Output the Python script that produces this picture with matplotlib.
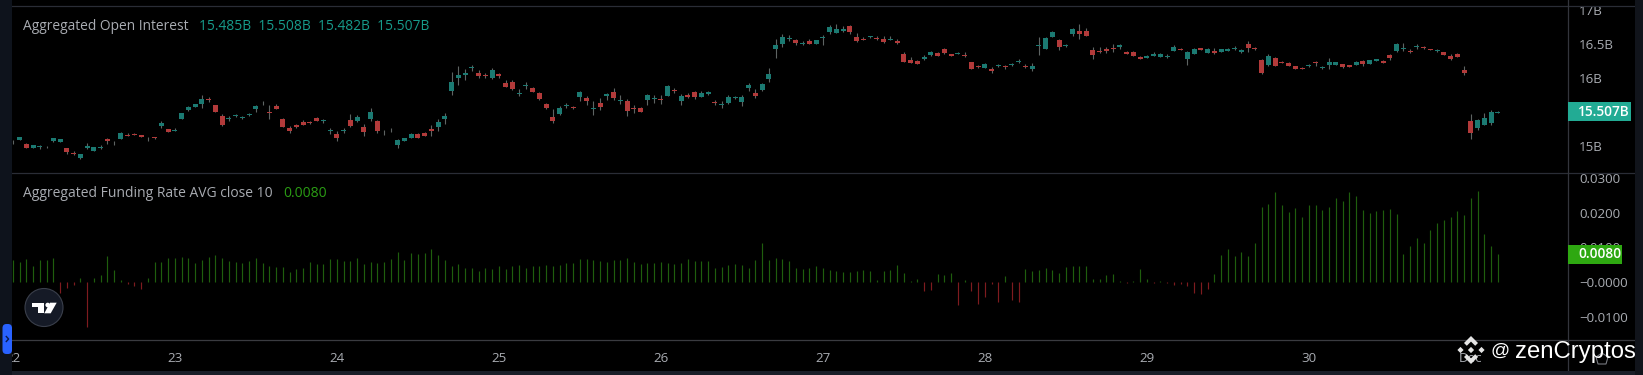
import matplotlib
matplotlib.use("Agg")
import matplotlib.pyplot as plt
import numpy as np
from matplotlib.patches import Circle, FancyBboxPatch, Rectangle, Polygon
from matplotlib.transforms import Bbox

# hourly candles, values in billions
opens = [15.054,15.093,15.025,14.975,14.985,14.980,15.074,15.064,14.971,14.897,14.828,14.975,14.931,14.975,15.098,15.049,
15.108,15.162,15.176,15.162,15.108,15.123,15.294,15.250,15.225,15.402,15.529,15.574,15.618,15.681,15.603,15.441,
15.402,15.441,15.417,15.456,15.544,15.627,15.500,15.588,15.397,15.265,15.309,15.353,15.353,15.412,15.368,15.216,
15.172,15.225,15.377,15.368,15.279,15.397,15.368,15.186,15.240,15.015,15.074,15.118,15.176,15.191,15.250,15.279,
15.397,15.809,16.000,16.044,16.147,16.074,16.044,16.000,16.059,15.926,15.941,15.760,15.882,15.853,15.779,15.618,
15.426,15.471,15.593,15.574,15.721,15.706,15.549,15.632,15.735,15.794,15.667,15.662,15.559,15.559,15.676,15.696,
15.691,15.735,15.824,15.662,15.750,15.794,15.721,15.765,15.647,15.608,15.632,15.711,15.647,15.853,15.779,15.824,
15.985,16.426,16.500,16.574,16.559,16.505,16.544,16.500,16.593,16.676,16.662,16.691,16.765,16.603,16.574,16.603,
16.588,16.574,16.564,16.544,16.353,16.265,16.250,16.279,16.338,16.368,16.426,16.353,16.358,16.338,16.235,16.176,
16.147,16.132,16.181,16.176,16.191,16.240,16.176,16.132,16.475,16.426,16.603,16.559,16.475,16.647,16.691,16.691,
16.412,16.397,16.426,16.446,16.456,16.382,16.382,16.304,16.294,16.324,16.309,16.314,16.397,16.426,16.279,16.353,
16.441,16.368,16.397,16.382,16.402,16.431,16.382,16.500,16.446,16.265,16.191,16.294,16.240,16.221,16.176,16.147,
16.176,16.230,16.152,16.191,16.191,16.206,16.191,16.191,16.250,16.206,16.250,16.250,16.338,16.397,16.426,16.397,
16.456,16.456,16.426,16.402,16.387,16.324,16.353,16.118,15.368,15.265,15.309,15.338,15.485]
closes = [15.064,15.132,14.975,15.010,14.995,14.990,15.113,15.103,14.917,14.887,14.882,15.000,14.980,14.985,15.074,15.039,
15.186,15.152,15.167,15.137,15.098,15.113,15.338,15.211,15.235,15.485,15.574,15.613,15.691,15.672,15.505,15.309,
15.412,15.451,15.426,15.466,15.588,15.637,15.490,15.549,15.284,15.221,15.279,15.314,15.343,15.373,15.377,15.225,
15.123,15.235,15.294,15.426,15.206,15.500,15.221,15.196,15.230,15.088,15.118,15.176,15.118,15.142,15.221,15.353,
15.441,15.941,16.044,16.074,16.162,16.029,16.034,16.118,16.029,15.868,15.838,15.770,15.897,15.794,15.691,15.559,
15.368,15.559,15.603,15.559,15.794,15.662,15.559,15.574,15.765,15.706,15.676,15.515,15.549,15.500,15.750,15.706,
15.681,15.882,15.814,15.735,15.721,15.721,15.779,15.794,15.637,15.618,15.721,15.721,15.721,15.897,15.735,15.912,
16.059,16.485,16.603,16.583,16.515,16.515,16.500,16.559,16.603,16.750,16.721,16.721,16.676,16.544,16.564,16.618,
16.574,16.529,16.574,16.515,16.235,16.221,16.206,16.309,16.382,16.324,16.368,16.324,16.368,16.324,16.132,16.162,
16.206,16.103,16.191,16.162,16.206,16.250,16.162,16.176,16.485,16.588,16.676,16.456,16.485,16.721,16.647,16.618,
16.338,16.382,16.402,16.431,16.485,16.353,16.324,16.284,16.324,16.358,16.353,16.324,16.456,16.412,16.382,16.426,
16.412,16.426,16.368,16.426,16.426,16.446,16.412,16.441,16.426,16.074,16.324,16.176,16.225,16.176,16.132,16.132,
16.191,16.216,16.162,16.235,16.235,16.162,16.162,16.235,16.206,16.265,16.279,16.221,16.294,16.500,16.441,16.382,
16.471,16.441,16.412,16.412,16.338,16.279,16.309,16.074,15.191,15.382,15.412,15.500,15.507]
highs = [15.088,15.132,15.039,15.010,15.020,15.005,15.113,15.103,14.971,14.922,14.882,15.039,14.980,15.010,15.118,15.074,
15.201,15.191,15.191,15.162,15.132,15.132,15.368,15.250,15.265,15.485,15.588,15.613,15.750,15.716,15.603,15.471,
15.441,15.471,15.441,15.490,15.603,15.662,15.603,15.613,15.407,15.289,15.319,15.382,15.368,15.426,15.402,15.260,
15.221,15.265,15.471,15.451,15.324,15.559,15.377,15.235,15.260,15.098,15.118,15.191,15.186,15.201,15.304,15.392,
15.485,16.088,16.176,16.132,16.191,16.118,16.074,16.147,16.074,15.971,15.971,15.838,15.941,15.868,15.794,15.632,
15.544,15.588,15.632,15.588,15.809,15.735,15.662,15.706,15.779,15.853,15.750,15.691,15.603,15.574,15.765,15.750,
15.750,15.892,15.853,15.765,15.779,15.809,15.809,15.814,15.676,15.662,15.750,15.740,15.750,15.926,15.838,15.926,
16.147,16.574,16.647,16.632,16.574,16.544,16.574,16.559,16.632,16.779,16.794,16.765,16.779,16.662,16.603,16.618,
16.618,16.618,16.618,16.574,16.382,16.309,16.265,16.338,16.397,16.387,16.441,16.353,16.382,16.382,16.235,16.191,
16.221,16.162,16.206,16.191,16.221,16.279,16.206,16.221,16.603,16.603,16.691,16.574,16.500,16.735,16.794,16.735,
16.456,16.456,16.456,16.500,16.500,16.397,16.397,16.324,16.338,16.382,16.368,16.353,16.485,16.441,16.397,16.441,
16.441,16.441,16.441,16.426,16.441,16.471,16.426,16.544,16.461,16.279,16.353,16.304,16.250,16.235,16.176,16.162,
16.211,16.255,16.181,16.294,16.235,16.206,16.191,16.250,16.265,16.265,16.279,16.265,16.353,16.515,16.515,16.426,
16.500,16.471,16.426,16.426,16.387,16.353,16.363,16.176,15.471,15.397,15.485,15.529,15.508]
lows = [15.034,15.088,14.975,14.975,14.961,14.975,15.059,15.064,14.887,14.868,14.814,14.956,14.931,14.956,15.034,15.015,
15.108,15.152,15.157,15.137,15.074,15.103,15.265,15.211,15.221,15.402,15.520,15.574,15.564,15.642,15.505,15.294,
15.373,15.426,15.397,15.436,15.505,15.603,15.397,15.549,15.284,15.191,15.270,15.304,15.324,15.373,15.343,15.181,
15.078,15.191,15.279,15.353,15.147,15.373,15.191,15.162,15.206,14.971,15.074,15.118,15.118,15.142,15.152,15.225,
15.324,15.750,15.897,15.971,16.103,16.000,16.005,15.985,16.000,15.868,15.824,15.735,15.838,15.794,15.676,15.544,
15.338,15.456,15.559,15.544,15.662,15.603,15.456,15.529,15.676,15.676,15.618,15.441,15.485,15.500,15.603,15.632,
15.618,15.735,15.779,15.603,15.706,15.691,15.721,15.750,15.603,15.559,15.618,15.691,15.588,15.809,15.706,15.809,
15.941,16.294,16.456,16.544,16.485,16.485,16.500,16.500,16.485,16.647,16.662,16.676,16.647,16.529,16.559,16.588,
16.559,16.515,16.554,16.500,16.235,16.221,16.206,16.265,16.324,16.324,16.353,16.324,16.353,16.309,16.132,16.147,
16.147,16.074,16.162,16.132,16.176,16.221,16.147,16.103,16.338,16.426,16.603,16.412,16.456,16.618,16.574,16.618,
16.279,16.368,16.368,16.382,16.426,16.353,16.324,16.284,16.294,16.324,16.309,16.294,16.397,16.412,16.191,16.353,
16.412,16.368,16.348,16.382,16.402,16.412,16.368,16.382,16.412,16.059,16.176,16.176,16.216,16.176,16.132,16.132,
16.157,16.176,16.132,16.132,16.191,16.147,16.162,16.191,16.176,16.206,16.250,16.221,16.265,16.382,16.397,16.368,
16.426,16.426,16.412,16.382,16.338,16.265,16.309,16.044,15.103,15.235,15.309,15.309,15.482]

funding = [.0064,.0058,.0067,.0047,.0064,.0064,.0070,-.0031,-.0016,-.0008,.0012,-.0128,.0012,.0021,.0076,.0035,
.0007,-.0005,-.0011,-.0019,.0012,.0058,.0058,.0070,.0070,.0073,.0070,.0056,.0064,.0073,.0078,.0070,
.0061,.0058,.0056,.0061,.0070,.0056,.0047,.0044,.0044,.0030,.0038,.0041,.0058,.0053,.0053,.0067,
.0067,.0061,.0061,.0070,.0053,.0058,.0056,.0058,.0067,.0087,.0064,.0084,.0081,.0084,.0096,.0078,
.0064,.0047,.0053,.0041,.0041,.0033,.0041,.0038,.0047,.0038,.0047,.0050,.0041,.0047,.0047,.0050,
.0047,.0050,.0056,.0056,.0067,.0067,.0064,.0061,.0058,.0064,.0064,.0070,.0058,.0053,.0056,.0056,
.0058,.0056,.0053,.0056,.0067,.0061,.0061,.0061,.0041,.0044,.0050,.0053,.0050,.0041,.0064,.0113,
.0064,.0070,.0067,.0061,.0041,.0038,.0041,.0047,.0041,.0035,.0033,.0030,.0030,.0033,.0035,.0033,
.0007,.0033,.0035,.0050,.0027,.0004,.0010,-.0025,-.0022,.0024,.0021,.0027,-.0065,.0007,-.0025,-.0062,
-.0042,-.0005,-.0056,.0018,-.0051,-.0056,.0038,.0033,.0035,.0041,.0035,.0027,.0044,.0047,.0047,.0047,
.0010,.0010,.0021,.0024,.0004,-.0002,.0004,.0038,.0010,-.0002,.0004,-.0002,-.0008,-.0005,-.0011,-.0031,
-.0033,-.0019,.0024,.0078,.0096,.0076,.0087,.0076,.0113,.0216,.0225,.0259,.0222,.0202,.0213,.0188,
.0222,.0222,.0208,.0216,.0242,.0233,.0259,.0248,.0208,.0199,.0205,.0208,.0211,.0196,.0081,.0104,
.0127,.0113,.0150,.0170,.0179,.0188,.0205,.0193,.0242,.0262,.0139,.0104,.0080]

price_ticks = [15, 15.5, 16, 16.5, 17]
price_labels = ["15B", "", "16B", "16.5B", "17B"]
rate_ticks = [-0.01, 0, 0.01, 0.02, 0.03]
rate_labels = ["\u22120.0100", "\u22120.0000", "0.0100", "0.0200", "0.0300"]
day_ticks = [0, 24, 48, 72, 96, 120, 144, 168, 192, 216]
day_labels = ["22", "23", "24", "25", "26", "27", "28", "29", "30", "Dec"]
oi_title = "Aggregated Open Interest"
oi_values = "15.485B  15.508B  15.482B  15.507B"
fr_title = "Aggregated Funding Rate AVG close 10"
fr_value = "0.0080"

W, H = 1643, 375
BG = "#000000"
UP = "#1b7a72"
DOWN = "#b23a3a"
WICK = "#5e6463"
TXT = "#a9acb2"
LINE = "#2a2d36"
FONT = "Open Sans"

plt.rcParams["font.family"] = FONT
fig = plt.figure(figsize=(W / 100, H / 100), dpi=100, facecolor=BG)


def pane(x0, y0, x1, y1):
    return fig.add_axes([x0 / W, 1 - y1 / H, (x1 - x0) / W, (y1 - y0) / H], facecolor=BG)


def bg(x, y, w, h, color, z=0):
    fig.add_artist(Rectangle((x / W, 1 - (y + h) / H), w / W, h / H, transform=fig.transFigure,
                             facecolor=color, edgecolor="none", zorder=z))


def ftext(x, y, s, **kw):
    return fig.text(x / W, 1 - y / H, s, va="center", **kw)


opens, closes, highs, lows = map(np.array, (opens, closes, highs, lows))
funding = np.array(funding)
hours = np.arange(len(opens))
xlim = (-0.148, 230.4)

ax1 = pane(12, 6.3, 1568, 173)
ax2 = pane(12, 173.5, 1568, 340)

up = closes >= opens
ax1.vlines(hours, lows, highs, color=WICK, lw=0.8, zorder=2)
heights = np.maximum(np.abs(closes - opens), 0.012)
ax1.bar(hours[up], heights[up], bottom=np.minimum(opens, closes)[up], width=0.74, color=UP, lw=0, zorder=3)
ax1.bar(hours[~up], heights[~up], bottom=np.minimum(opens, closes)[~up], width=0.74, color=DOWN, lw=0, zorder=3)
ax1.set_xlim(xlim)
ax1.set_ylim(14.603, 17.054)

pos = funding >= 0
ax2.vlines(hours[pos], 0, funding[pos], color="#1f5e0d", lw=0.85)
ax2.vlines(hours[~pos], 0, funding[~pos], color="#7e1b1f", lw=0.85)
ax2.set_xlim(xlim)
ax2.set_ylim(-0.01658, 0.03126)

for ax, ticks, labels in ((ax1, price_ticks, price_labels), (ax2, rate_ticks, rate_labels)):
    ax.yaxis.tick_right()
    ax.set_yticks(ticks)
    ax.set_yticklabels(labels, color=TXT, fontsize=9.6)
    ax.tick_params(axis="y", length=0, pad=8)
    ax.tick_params(axis="x", length=0)
    ax.set_xticks([])
    for s in ax.spines.values():
        s.set_visible(False)
# top labels get cut by the pane edge
for ax, top in ((ax1, 6.3), (ax2, 173.5)):
    for tl in ax.get_yticklabels():
        tl.set_clip_on(True)
        tl.set_clip_box(Bbox([[1568, 0], [1643, H - top]]))

ax2.set_xticks(day_ticks)
ax2.set_xticklabels(day_labels, color=TXT, fontsize=9.6)
ax2.tick_params(axis="x", length=0, pad=9)
ax2.get_xticklabels()[0].set_clip_on(True)
ax2.get_xticklabels()[0].set_clip_box(Bbox([[12, 0], [1568, H]]))

# frame lines
for y in (6.3, 173.3, 340):
    fig.add_artist(plt.Line2D([12 / W, 1635 / W], [1 - y / H] * 2, color=LINE if y < 300 else "#3a3b40", lw=0.9))
fig.add_artist(plt.Line2D([1568 / W] * 2, [1, 1 - 371 / H], color="#33353c", lw=0.9))

# side and bottom strips
bg(0, 0, 12, H, "#0e131c", 5)
bg(1635, 0, 8, H, "#11141b", 5)
bg(12, 371, 1623, 4, "#1a1e28", 5)

# pane legends
ftext(23, 27, oi_title, color=TXT, fontsize=9.9)
ftext(199, 27, oi_values, color="#179b8b", fontsize=9.9)
ftext(23, 193.5, fr_title, color=TXT, fontsize=10)
ftext(283, 193.5, fr_value, color="#2b9d14", fontsize=10)

# last value tags
bg(1568, 102, 63, 19, "#22ab94", 8)
ftext(1578, 111.5, "15.507B", color="white", fontsize=9.8, fontweight="semibold", zorder=9)
bg(1568, 245, 54, 19, "#2ea811", 8)
ftext(1578, 254.5, "0.0080", color="white", fontsize=9.8, fontweight="semibold", zorder=9)

# overlay in pixel coords: side tab, tradingview badge, watermark
ov = fig.add_axes([0, 0, 1, 1], facecolor="none")
ov.set_xlim(0, W)
ov.set_ylim(H, 0)
ov.axis("off")
ov.set_zorder(10)
ov.add_patch(FancyBboxPatch((2.5, 324), 9.5, 30, boxstyle="round,pad=0,rounding_size=4", facecolor="#2962ff", edgecolor="none"))
ov.plot([6.3, 8.6, 6.3], [336.5, 339, 341.5], color="#0b1a4d", lw=1)

ov.add_patch(Circle((44, 307.5), 19, facecolor="#151a26", edgecolor="#3a3f4b", lw=0.8))
ov.add_patch(Polygon([(32.3, 302.7), (44.3, 302.7), (44.3, 313.3), (37.7, 313.3), (37.7, 306.7), (32.3, 306.7)], color="white", lw=0))
ov.add_patch(Circle((47.7, 305), 2.3, color="white", lw=0))
ov.add_patch(Polygon([(50, 302.7), (56.7, 302.7), (50.7, 313.3), (44.3, 313.3)], color="white", lw=0))

# binance mark
cx, cy = 1471, 350
MARK = "#e4e4e4"
ov.add_patch(Polygon([(cx, cy - 14), (cx + 7, cy - 7), (cx + 4.2, cy - 4.2), (cx, cy - 8.4), (cx - 4.2, cy - 4.2), (cx - 7, cy - 7)], color=MARK, lw=0))
ov.add_patch(Polygon([(cx, cy + 14), (cx + 7, cy + 7), (cx + 4.2, cy + 4.2), (cx, cy + 8.4), (cx - 4.2, cy + 4.2), (cx - 7, cy + 7)], color=MARK, lw=0))
for dx in (-10.5, 0, 10.5):
    r = 3.1
    ov.add_patch(Polygon([(cx + dx, cy - r), (cx + dx + r, cy), (cx + dx, cy + r), (cx + dx - r, cy)], color=MARK, lw=0))
ov.text(1490.5, 356, "@", color="white", fontsize=13.5, va="baseline", family="Liberation Sans")
ov.text(1515, 358, "zenCryptos", color="white", fontsize=17.2, va="baseline", family="Liberation Sans")

# small toolbar glyph under the watermark
ov.add_patch(Polygon([(1596, 357), (1602, 353), (1608, 357), (1606, 364), (1598, 364)], facecolor="none", edgecolor="#777a80", lw=0.8))

fig.savefig("out.png", dpi=100, facecolor=BG)
